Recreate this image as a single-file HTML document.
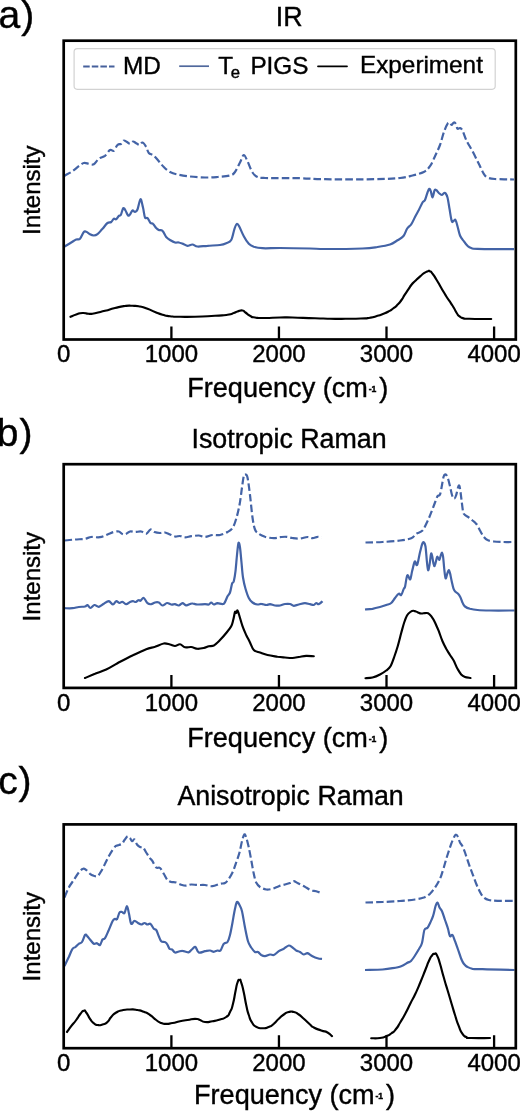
<!DOCTYPE html>
<html lang="en">
<head>
<meta charset="utf-8">
<title>Spectra</title>
<style>
html,body{margin:0;padding:0;background:#fff;}
body{width:520px;height:1111px;overflow:hidden;}
svg{display:block;}
text{font-family:"Liberation Sans",Arial,sans-serif;fill:#000;stroke:#000;stroke-width:0.4;}
.pl{font-size:39px;}
.tt{font-size:26.8px;text-anchor:middle;}
.tk{font-size:24px;text-anchor:middle;}
.ax{font-size:27.1px;}
.yl{font-size:24px;text-anchor:middle;}
.lg{font-size:24.3px;}
.box{fill:none;stroke:#000;stroke-width:2.7;}
.tick{stroke:#000;stroke-width:2.3;fill:none;}
.md{fill:none;stroke:#4363a6;stroke-width:2.2;stroke-dasharray:7.5 3.1;stroke-linejoin:round;}
.lmd{fill:none;stroke:#46609c;stroke-width:2;stroke-dasharray:6.5 2.1;}
.lpg{fill:none;stroke:#50689c;stroke-width:1.7;}
.pg{fill:none;stroke:#4363a6;stroke-width:2.2;stroke-linejoin:round;}
.ex{fill:none;stroke:#000;stroke-width:2.15;stroke-linejoin:round;stroke-linecap:round;}
</style>
</head>
<body>
<svg width="520" height="1111" viewBox="0 0 520 1111">
<rect x="0" y="0" width="520" height="1111" fill="#fff"/>

<!-- ===== panel a ===== -->
<g id="pa">
<text class="pl" x="-1.5" y="27.7">a<tspan dx="1">)</tspan></text>
<text class="tt" x="289.1" y="26">IR</text>
<path class="md" d="M64.5 175.8C64.6 175.8 63.7 176.3 65.0 175.5C66.3 174.7 70.2 172.8 72.5 171.2C74.8 169.7 76.9 167.6 78.8 166.2C80.6 164.9 82.1 163.4 83.8 163.0C85.4 162.6 87.1 163.5 88.8 163.8C90.4 164.0 92.1 165.1 93.8 164.2C95.4 163.4 96.9 160.2 98.8 158.8C100.6 157.3 103.1 157.2 105.0 155.8C106.9 154.3 108.5 150.8 110.0 150.0C111.5 149.2 112.5 151.6 113.8 150.8C115.0 149.9 116.2 146.2 117.5 145.0C118.8 143.8 120.2 144.5 121.2 143.8C122.3 143.0 122.8 140.8 123.8 140.5C124.7 140.2 126.0 141.5 127.0 142.0C128.0 142.5 129.0 143.8 130.0 143.8C131.0 143.7 132.0 141.6 133.0 141.5C134.0 141.4 135.2 142.7 136.2 143.2C137.3 143.8 138.5 145.1 139.5 145.0C140.5 144.9 141.4 142.2 142.5 142.5C143.6 142.8 145.2 145.2 146.2 147.0C147.3 148.8 147.5 151.6 148.8 153.0C150.0 154.4 152.1 154.1 153.8 155.5C155.4 156.9 157.1 159.3 158.8 161.2C160.4 163.2 161.9 165.2 163.8 167.0C165.6 168.8 167.7 170.8 170.0 172.0C172.3 173.2 174.2 173.8 177.5 174.5C180.8 175.2 185.4 176.0 190.0 176.5C194.6 177.0 200.4 177.4 205.0 177.5C209.6 177.6 213.3 177.3 217.5 177.0C221.7 176.7 227.1 176.3 230.0 175.5C232.9 174.7 233.3 174.2 235.0 172.0C236.7 169.8 238.5 165.3 240.0 162.5C241.5 159.7 242.5 155.2 243.8 155.0C245.0 154.8 246.0 158.3 247.5 161.2C249.0 164.2 250.8 169.9 252.5 172.5C254.2 175.1 255.4 176.1 257.5 177.0C259.6 177.9 257.9 177.8 265.0 178.0C272.1 178.2 290.0 178.0 300.0 178.2C310.0 178.5 312.5 179.1 325.0 179.2C337.5 179.4 362.5 179.5 375.0 179.2C387.5 179.0 393.8 178.6 400.0 178.0C406.2 177.4 408.5 176.5 412.5 175.5C416.5 174.5 420.8 173.5 423.8 172.0C426.7 170.5 428.1 168.9 430.0 166.2C431.9 163.6 433.3 159.8 435.0 156.2C436.7 152.7 438.5 149.0 440.0 145.0C441.5 141.0 442.5 136.0 443.8 132.5C445.0 129.0 446.5 125.3 447.5 123.8C448.5 122.2 449.3 122.8 450.0 123.0C450.7 123.2 451.1 125.1 451.8 125.0C452.4 124.9 453.1 122.7 453.8 122.5C454.4 122.3 455.1 122.7 455.8 123.8C456.4 124.8 456.8 128.0 457.5 128.8C458.2 129.5 459.2 127.7 460.0 128.0C460.8 128.3 461.5 128.5 462.5 130.5C463.5 132.5 464.6 136.5 466.2 140.0C467.9 143.5 470.4 147.3 472.5 151.2C474.6 155.2 476.9 160.0 478.8 163.8C480.6 167.5 482.3 171.5 483.8 173.8C485.2 176.0 485.6 176.6 487.5 177.5C489.4 178.4 490.6 178.7 495.0 179.0C499.4 179.3 510.8 179.4 514.0 179.5"/>
<path class="pg" d="M64.5 246.5C65.6 245.8 69.3 243.7 71.2 242.5C73.2 241.3 74.8 240.1 76.2 239.5C77.7 238.9 78.8 240.0 80.0 238.8C81.2 237.5 82.7 233.2 83.8 232.0C84.8 230.8 85.2 231.4 86.2 231.8C87.3 232.1 88.8 233.6 90.0 234.2C91.2 234.9 92.5 235.5 93.8 235.5C95.0 235.5 96.0 235.4 97.5 234.2C99.0 233.1 100.8 230.6 102.5 228.8C104.2 226.9 106.0 224.1 107.5 223.0C109.0 221.9 110.2 222.7 111.2 222.0C112.3 221.3 112.9 219.2 113.8 218.8C114.6 218.3 115.4 219.8 116.2 219.2C117.1 218.8 118.0 216.5 118.8 215.8C119.5 215.0 120.0 216.2 120.8 215.0C121.5 213.8 122.5 209.0 123.2 208.2C124.0 207.5 124.7 209.3 125.5 210.5C126.3 211.7 127.2 214.8 128.0 215.5C128.8 216.2 129.2 215.3 130.0 214.5C130.8 213.7 131.7 210.9 132.5 210.5C133.3 210.1 134.2 212.2 135.0 212.0C135.8 211.8 136.6 211.6 137.5 209.5C138.4 207.4 139.6 199.6 140.5 199.2C141.4 198.9 142.2 204.5 143.0 207.5C143.8 210.5 144.2 215.8 145.0 217.5C145.8 219.2 146.6 217.1 147.5 218.0C148.4 218.9 149.6 222.0 150.5 223.0C151.4 224.0 152.0 222.9 153.0 223.8C154.0 224.6 155.3 227.0 156.2 228.0C157.2 229.0 157.7 229.5 158.8 230.0C159.8 230.5 161.2 229.6 162.5 230.8C163.8 231.9 165.0 235.5 166.2 237.0C167.5 238.5 168.5 239.1 170.0 240.0C171.5 240.9 173.5 242.1 175.0 242.5C176.5 242.9 177.3 242.2 178.8 242.5C180.2 242.8 182.3 243.7 183.8 244.2C185.2 244.8 186.0 245.7 187.5 245.8C189.0 245.8 190.8 244.4 192.5 244.5C194.2 244.6 195.0 246.3 197.5 246.5C200.0 246.7 203.8 246.0 207.5 245.8C211.2 245.5 216.9 245.4 220.0 245.0C223.1 244.6 224.4 244.1 226.2 243.2C228.1 242.4 229.9 242.4 231.2 240.0C232.6 237.6 233.5 231.5 234.5 228.8C235.5 226.0 236.2 224.0 237.0 223.8C237.8 223.5 238.4 224.9 239.5 227.0C240.6 229.1 242.2 233.5 243.8 236.2C245.3 239.0 247.1 242.0 248.8 243.8C250.4 245.5 251.5 246.0 253.8 246.8C256.0 247.5 258.1 248.0 262.5 248.2C266.9 248.5 272.1 248.0 280.0 248.0C287.9 248.0 302.5 248.3 310.0 248.5C317.5 248.7 316.2 249.0 325.0 249.0C333.8 249.0 353.8 248.8 362.5 248.5C371.2 248.2 372.9 247.7 377.5 247.0C382.1 246.3 386.7 245.6 390.0 244.5C393.3 243.4 395.2 241.7 397.5 240.3C399.8 238.9 401.9 238.0 403.5 236.0C405.1 234.0 405.9 230.4 407.2 228.5C408.5 226.6 409.9 226.2 411.2 224.3C412.6 222.4 413.8 219.4 415.0 217.0C416.2 214.6 417.5 212.4 418.8 210.0C420.0 207.6 421.5 204.2 422.5 202.5C423.5 200.8 424.2 201.7 425.0 200.0C425.8 198.3 426.8 194.4 427.5 192.5C428.2 190.6 428.7 189.0 429.2 188.8C429.8 188.5 430.2 189.8 430.8 191.2C431.3 192.7 431.9 197.6 432.5 197.5C433.1 197.4 433.9 191.8 434.5 190.5C435.1 189.2 435.5 189.6 436.2 190.0C437.0 190.4 437.8 192.2 438.8 193.0C439.7 193.8 440.9 195.0 441.8 195.0C442.6 195.0 443.1 193.5 443.8 193.2C444.4 193.0 444.9 192.5 445.5 193.2C446.1 194.0 446.8 194.9 447.5 197.5C448.2 200.1 448.8 204.8 449.5 208.8C450.2 212.7 451.0 219.2 451.8 221.2C452.5 223.2 453.1 221.0 453.8 220.8C454.4 220.5 454.9 219.1 455.5 220.0C456.1 220.9 456.8 223.7 457.5 226.2C458.2 228.8 459.0 233.0 460.0 235.5C461.0 238.0 462.5 239.5 463.8 241.2C465.0 243.0 466.2 244.6 467.5 245.8C468.8 246.9 469.6 247.5 471.2 248.0C472.9 248.5 470.4 248.5 477.5 248.8C484.6 249.0 507.9 249.2 514.0 249.2"/>
<path class="ex" d="M70.5 316.8C72.4 316.0 72.2 315.8 76.2 314.5C80.2 313.2 78.3 313.2 82.5 313.0C86.7 312.8 84.6 313.7 88.8 313.8C92.9 313.8 89.6 314.2 95.0 313.2C100.4 312.2 98.3 312.5 105.0 310.8C111.7 309.0 108.3 309.6 115.0 308.0C121.7 306.4 119.2 306.8 125.0 306.0C130.8 305.2 127.5 305.6 132.5 305.8C137.5 305.9 135.0 305.5 140.0 306.5C145.0 307.5 142.5 306.9 147.5 308.8C152.5 310.6 150.0 310.0 155.0 312.0C160.0 314.0 157.5 313.3 162.5 314.8C167.5 316.2 164.2 315.6 170.0 316.2C175.8 316.9 171.7 316.6 180.0 316.8C188.3 316.9 183.3 317.1 195.0 316.8C206.7 316.4 204.2 316.4 215.0 315.8C225.8 315.1 221.2 315.7 227.5 314.8C233.8 313.8 230.4 314.1 233.8 313.0C237.1 311.9 234.6 312.3 237.5 311.5C240.4 310.7 239.8 310.2 242.5 310.5C245.2 310.8 243.0 310.8 245.5 312.5C248.0 314.2 246.8 314.1 250.0 315.8C253.2 317.4 250.0 316.8 255.0 317.5C260.0 318.2 256.7 318.0 265.0 318.0C273.3 318.0 270.8 317.7 280.0 317.5C289.2 317.3 280.8 317.2 292.5 317.5C304.2 317.8 302.5 317.9 315.0 318.2C327.5 318.6 319.9 318.5 330.0 318.7C340.1 318.9 335.1 318.9 345.4 318.8C355.7 318.7 352.6 318.9 360.8 318.5C369.0 318.1 364.9 318.5 370.0 317.7C375.1 316.9 372.1 317.4 376.2 316.2C380.3 315.0 378.2 315.8 382.3 314.2C386.4 312.6 384.9 313.4 388.5 311.5C392.1 309.6 390.0 310.8 393.1 308.5C396.2 306.2 394.9 307.4 397.7 304.6C400.5 301.8 399.1 303.3 401.5 300.0C403.9 296.7 402.4 298.4 404.8 294.7C407.2 291.0 406.5 292.2 408.7 288.9C410.9 285.6 409.3 287.4 411.5 284.7C413.7 282.0 412.5 283.6 415.4 280.8C418.3 278.0 417.3 278.9 420.2 276.4C423.1 273.9 421.4 274.9 424.0 273.2C426.6 271.5 426.0 271.9 427.9 271.2C429.8 270.5 428.2 270.3 429.8 271.2C431.4 272.1 430.5 271.1 432.7 273.9C434.9 276.7 433.6 275.0 436.5 279.7C439.4 284.4 438.1 282.5 441.3 288.0C444.5 293.5 443.0 291.1 446.2 296.2C449.4 301.3 448.5 299.4 451.0 303.3C453.5 307.2 451.9 304.6 453.8 307.8C455.7 311.0 454.8 310.1 456.7 313.0C458.6 315.9 457.3 314.7 459.6 316.4C461.9 318.1 460.3 317.4 463.5 318.2C466.7 319.0 459.9 318.5 469.2 318.8C478.4 319.1 483.9 318.9 491.2 319.0"/>
<rect class="box" x="63.7" y="40.7" width="452.1" height="298.8"/>
<path class="tick" d="M171.4 339V326.4M278.95 339V326.4M386.5 339V326.4M494.1 339V326.4"/>
<text class="tk" x="63.75" y="362.1">0</text>
<text class="tk" x="171.4" y="362.1">1000</text>
<text class="tk" x="278.95" y="362.1">2000</text>
<text class="tk" x="386.5" y="362.1">3000</text>
<text class="tk" x="494.1" y="362.1">4000</text>
<text class="ax" x="187.2" y="397.2">Frequency (cm<tspan font-size="8.6" font-weight="bold" dy="-5.5" dx="0.8">-1</tspan><tspan dy="5.5" dx="2.9">)</tspan></text>
<text class="yl" transform="translate(40.4 190.2) rotate(-90)">Intensity</text>
<rect x="74.1" y="48.6" width="421.1" height="40.7" rx="3.2" fill="#fff" stroke="#d2d2d2" stroke-width="1.2"/>
<path class="lmd" d="M83.2 66.6H114.5"/>
<text class="lg" x="123" y="73.8">MD</text>
<path class="lpg" d="M179.2 66.2H209"/>
<text class="lg" x="218.3" y="73.8">T<tspan font-size="16.7" dy="4.4" dx="-2.4">e</tspan><tspan dy="-4.4" dx="3.6"> PIGS</tspan></text>
<path class="ex" style="stroke-width:1.8" d="M318 66.3H347"/>
<text class="lg" x="360" y="73.2">Experiment</text>
</g>

<!-- ===== panel b ===== -->
<g id="pb">
<text class="pl" x="-3.3" y="445.8">b<tspan dx="1.2">)</tspan></text>
<text class="tt" x="289.1" y="447.5">Isotropic Raman</text>
<path class="md" d="M64.5 540.5C66.2 540.3 71.6 539.8 75.0 539.5C78.4 539.2 82.3 539.2 85.0 538.8C87.7 538.3 88.8 537.2 91.2 537.0C93.8 536.8 97.3 537.7 100.0 537.2C102.7 536.8 105.2 535.4 107.5 534.5C109.8 533.6 111.9 532.5 113.8 532.0C115.6 531.5 117.4 531.2 118.8 531.5C120.1 531.8 120.9 533.3 122.0 533.8C123.1 534.2 124.2 534.6 125.5 534.2C126.8 533.9 128.4 531.9 130.0 531.5C131.6 531.1 133.1 532.0 135.0 532.0C136.9 532.0 139.4 531.2 141.2 531.5C143.1 531.8 144.7 534.1 146.2 533.8C147.8 533.4 149.1 529.8 150.5 529.5C151.9 529.2 152.9 531.4 154.5 532.0C156.1 532.6 158.2 532.9 160.0 533.0C161.8 533.1 163.3 532.2 165.0 532.5C166.7 532.8 168.3 533.8 170.0 534.5C171.7 535.2 173.3 536.2 175.0 536.5C176.7 536.8 178.3 535.9 180.0 536.0C181.7 536.1 183.1 537.3 185.0 537.3C186.9 537.3 189.0 536.5 191.2 536.2C193.5 536.0 196.5 535.4 198.8 535.5C201.0 535.6 202.7 537.1 205.0 537.0C207.3 536.9 210.0 535.3 212.5 535.0C215.0 534.7 217.5 535.5 220.0 535.0C222.5 534.5 225.4 533.2 227.5 532.0C229.6 530.8 231.0 530.2 232.5 528.0C234.0 525.8 235.1 522.6 236.2 518.8C237.4 514.9 238.5 510.2 239.5 505.0C240.5 499.8 241.3 492.3 242.0 487.5C242.7 482.7 243.2 478.4 243.8 476.2C244.3 474.1 244.9 474.3 245.5 474.5C246.1 474.7 246.8 474.1 247.5 477.5C248.2 480.9 249.2 488.3 250.0 495.0C250.8 501.7 251.7 511.8 252.5 517.5C253.3 523.2 254.0 526.8 255.0 529.5C256.0 532.2 257.1 532.5 258.8 533.8C260.4 535.0 262.5 536.0 265.0 536.8C267.5 537.5 271.2 538.2 273.8 538.2C276.2 538.3 277.9 537.5 280.0 537.2C282.1 537.0 284.2 536.6 286.2 536.8C288.3 536.9 290.2 537.7 292.5 538.0C294.8 538.3 297.5 538.7 300.0 538.5C302.5 538.3 305.4 537.0 307.5 537.0C309.6 537.0 310.8 538.3 312.5 538.2C314.2 538.2 316.0 536.9 317.5 536.8C319.0 536.6 320.8 537.4 321.5 537.5"/>
<path class="md" d="M365.5 542.5C368.3 542.4 376.8 542.3 382.5 542.0C388.2 541.7 395.2 541.1 400.0 540.5C404.8 539.9 408.5 539.4 411.2 538.2C414.0 537.1 414.4 535.0 416.2 533.8C418.1 532.5 420.6 532.6 422.5 530.5C424.4 528.4 426.0 524.2 427.5 521.2C429.0 518.2 430.0 515.6 431.2 512.5C432.5 509.4 434.0 505.2 435.0 502.5C436.0 499.8 436.7 497.6 437.5 496.2C438.3 494.9 439.2 496.4 440.0 494.5C440.8 492.6 441.4 488.0 442.0 485.0C442.6 482.0 443.1 478.0 443.8 476.2C444.4 474.5 445.0 474.1 445.8 474.5C446.5 474.9 447.3 476.8 448.0 478.8C448.7 480.7 449.3 483.5 450.0 486.2C450.7 489.0 451.3 492.9 452.0 495.0C452.7 497.1 453.5 498.8 454.2 498.8C455.0 498.8 455.6 496.9 456.2 495.0C456.9 493.1 457.5 489.0 458.0 487.5C458.5 486.0 459.0 484.6 459.5 486.2C460.0 487.9 460.7 493.3 461.2 497.5C461.8 501.7 462.4 508.3 463.0 511.2C463.6 514.2 464.0 514.0 465.0 515.0C466.0 516.0 467.5 516.6 468.8 517.5C470.0 518.4 471.2 519.5 472.5 520.5C473.8 521.5 475.0 522.1 476.2 523.8C477.5 525.4 478.8 528.3 480.0 530.5C481.2 532.7 482.5 535.2 483.8 536.8C485.0 538.3 485.8 539.2 487.5 540.0C489.2 540.8 491.2 541.2 493.8 541.5C496.2 541.8 499.0 541.9 502.5 542.0C506.0 542.1 512.5 542.0 514.5 542.0"/>
<path class="pg" d="M64.5 608.2C65.8 608.2 70.1 608.5 72.5 608.2C74.9 608.0 76.7 607.3 78.8 607.0C80.8 606.7 83.5 606.8 85.0 606.5C86.5 606.2 86.6 604.8 87.5 605.0C88.4 605.2 89.3 608.0 90.5 608.0C91.7 608.0 93.1 605.2 94.5 605.0C95.9 604.8 97.2 607.0 98.8 606.8C100.3 606.5 102.1 604.7 103.8 603.8C105.4 602.8 107.2 601.1 108.8 601.2C110.3 601.4 111.8 604.5 113.0 604.5C114.2 604.5 115.2 601.5 116.2 601.2C117.3 601.0 118.5 602.9 119.5 603.0C120.5 603.1 121.4 601.5 122.5 601.8C123.6 602.0 125.0 604.2 126.2 604.2C127.5 604.3 128.9 602.5 130.0 602.0C131.1 601.5 132.0 601.2 133.0 601.2C134.0 601.2 134.8 602.2 135.8 602.0C136.7 601.8 138.0 600.2 138.8 600.0C139.5 599.8 139.7 601.1 140.5 600.8C141.3 600.4 142.6 597.6 143.8 598.0C144.9 598.4 146.2 602.2 147.5 603.2C148.8 604.3 150.0 604.4 151.2 604.2C152.5 604.1 153.8 602.8 155.0 602.5C156.2 602.2 157.5 602.0 158.8 602.5C160.0 603.0 161.1 605.4 162.5 605.5C163.9 605.6 165.5 603.2 167.0 603.0C168.5 602.8 169.9 604.3 171.2 604.5C172.6 604.7 173.8 604.1 175.0 604.2C176.2 604.4 177.5 605.7 178.8 605.5C180.0 605.3 181.2 603.3 182.5 603.2C183.8 603.2 185.0 605.2 186.2 605.3C187.5 605.4 189.0 604.3 190.0 604.0C191.0 603.7 191.2 603.4 192.5 603.5C193.8 603.6 195.4 604.4 197.5 604.5C199.6 604.6 203.1 604.2 205.0 604.2C206.9 604.2 207.7 604.8 208.8 604.5C209.8 604.2 210.4 602.5 211.2 602.5C212.1 602.5 212.7 604.4 213.8 604.5C214.8 604.6 215.8 603.4 217.5 603.2C219.2 603.1 222.1 604.9 223.8 603.8C225.4 602.6 226.5 598.1 227.5 596.2C228.5 594.4 229.2 594.6 230.0 592.5C230.8 590.4 231.4 585.6 232.0 583.8C232.6 581.9 233.2 583.3 233.8 581.2C234.3 579.2 235.0 575.6 235.5 571.2C236.0 566.9 236.5 559.7 237.0 555.0C237.5 550.3 238.0 544.2 238.5 543.0C239.0 541.8 239.5 544.2 240.0 547.5C240.5 550.8 241.0 557.5 241.5 562.5C242.0 567.5 242.3 573.1 243.0 577.5C243.7 581.9 244.5 585.3 245.5 588.8C246.5 592.2 247.6 595.7 248.8 598.0C249.9 600.3 251.0 601.4 252.5 602.5C254.0 603.6 256.0 604.3 257.5 604.5C259.0 604.7 259.8 603.7 261.2 603.8C262.7 603.8 264.8 604.9 266.2 605.0C267.7 605.1 268.5 604.2 270.0 604.2C271.5 604.3 273.3 605.3 275.0 605.5C276.7 605.7 278.3 605.8 280.0 605.5C281.7 605.2 283.3 604.2 285.0 604.0C286.7 603.8 288.5 603.7 290.0 604.0C291.5 604.3 292.3 605.7 293.8 605.8C295.2 605.8 296.9 604.9 298.8 604.5C300.6 604.1 303.1 603.2 305.0 603.2C306.9 603.2 308.5 604.0 310.0 604.2C311.5 604.5 312.7 605.2 313.8 605.0C314.8 604.8 315.4 603.1 316.2 603.0C317.1 602.9 317.7 604.5 318.8 604.2C319.8 604.0 321.9 601.8 322.5 601.2"/>
<path class="pg" d="M365.0 609.5C366.2 609.4 370.0 609.2 372.5 608.8C375.0 608.3 377.7 607.6 380.0 607.0C382.3 606.4 384.4 605.7 386.2 605.0C388.1 604.3 389.8 604.2 391.2 603.0C392.7 601.8 393.8 599.5 395.0 598.0C396.2 596.5 397.7 594.2 398.8 593.8C399.8 593.2 400.4 595.8 401.2 595.0C402.1 594.2 403.1 590.1 403.8 588.8C404.4 587.4 404.4 589.1 405.0 586.9C405.6 584.7 406.4 576.6 407.3 575.4C408.2 574.1 409.4 580.2 410.2 579.4C411.0 578.6 411.4 573.8 412.2 570.8C413.0 567.8 414.0 562.5 414.8 561.5C415.6 560.5 416.2 566.5 417.1 565.0C418.0 563.5 419.1 555.8 420.0 552.3C420.9 548.8 421.6 545.3 422.3 543.7C423.0 542.1 423.5 542.0 424.0 542.5C424.5 543.0 425.0 543.3 425.5 546.5C426.0 549.7 426.5 557.5 426.9 561.5C427.3 565.5 427.7 569.6 428.1 570.2C428.5 570.8 429.0 567.7 429.5 565.0C430.0 562.3 430.6 555.5 431.0 554.0C431.4 552.5 431.7 554.3 432.1 555.8C432.5 557.2 432.9 561.0 433.3 562.7C433.7 564.4 434.0 566.2 434.4 566.2C434.8 566.2 435.2 564.2 435.6 562.7C436.1 561.2 436.7 557.7 437.1 556.9C437.5 556.1 437.8 557.6 438.2 558.1C438.6 558.6 439.0 560.1 439.4 559.8C439.8 559.5 440.1 557.5 440.5 556.3C440.9 555.1 441.5 552.4 441.9 552.5C442.3 552.6 442.7 554.2 443.1 556.9C443.5 559.6 443.8 564.9 444.2 568.5C444.6 572.1 445.1 577.3 445.6 578.3C446.1 579.2 446.6 575.6 447.1 574.2C447.6 572.9 448.1 570.4 448.6 570.2C449.1 570.0 449.5 571.3 450.0 573.1C450.5 574.9 451.1 578.6 451.7 581.2C452.3 583.8 452.9 587.0 453.5 588.7C454.1 590.4 454.4 590.6 455.2 591.5C456.0 592.4 457.2 592.8 458.1 593.8C459.0 594.8 459.6 595.8 460.4 597.3C461.2 598.8 461.9 601.6 462.7 603.1C463.5 604.6 463.8 605.6 465.0 606.5C466.2 607.4 467.9 608.2 470.0 608.8C472.1 609.3 474.2 609.7 477.5 610.0C480.8 610.3 483.8 610.4 490.0 610.5C496.2 610.6 510.4 610.5 514.5 610.5"/>
<path class="ex" d="M85.0 678.0C86.7 677.3 91.5 675.2 95.0 673.8C98.5 672.3 102.5 671.2 106.2 669.5C110.0 667.8 113.1 665.6 117.5 663.2C121.9 660.9 127.7 657.8 132.5 655.5C137.3 653.2 142.5 650.7 146.2 649.2C150.0 647.8 152.1 647.7 155.0 646.8C157.9 645.8 161.2 643.9 163.8 643.5C166.2 643.1 168.1 644.1 170.0 644.5C171.9 644.9 173.3 646.0 175.0 646.0C176.7 646.0 178.3 644.1 180.0 644.3C181.7 644.5 183.1 646.8 185.0 647.3C186.9 647.8 189.2 646.8 191.2 647.0C193.3 647.2 195.4 648.6 197.5 648.8C199.6 648.9 201.9 648.4 203.8 648.0C205.6 647.6 207.1 646.7 208.8 646.2C210.4 645.8 211.9 646.5 213.8 645.5C215.6 644.5 217.9 642.1 220.0 640.0C222.1 637.9 224.4 635.3 226.2 633.0C228.1 630.7 230.1 628.4 231.2 626.2C232.4 624.1 232.6 622.4 233.2 620.0C233.9 617.6 234.5 613.2 235.0 612.0C235.5 610.8 235.8 613.2 236.2 613.0C236.7 612.8 237.0 610.0 237.5 610.5C238.0 611.0 238.7 613.6 239.5 616.2C240.3 618.9 241.4 623.1 242.5 626.2C243.6 629.4 245.0 632.3 246.2 635.0C247.5 637.7 248.8 640.0 250.0 642.5C251.2 645.0 252.1 648.3 253.8 650.0C255.4 651.7 257.7 651.7 260.0 652.5C262.3 653.3 264.6 654.3 267.5 655.0C270.4 655.7 274.6 656.3 277.5 656.8C280.4 657.2 282.5 657.3 285.0 657.5C287.5 657.7 290.0 658.1 292.5 658.0C295.0 657.9 297.7 657.1 300.0 656.8C302.3 656.4 304.0 656.0 306.2 655.9C308.5 655.8 312.5 656.2 313.8 656.2"/>
<path class="ex" d="M365.5 678.2C366.7 678.1 370.1 678.1 372.5 677.5C374.9 676.9 377.7 675.7 380.0 674.5C382.3 673.3 384.5 671.9 386.2 670.5C388.0 669.1 389.2 668.5 390.5 666.3C391.8 664.0 393.0 660.4 394.2 657.0C395.4 653.6 396.6 650.0 397.8 646.0C399.0 642.0 400.2 636.9 401.2 633.0C402.3 629.1 403.2 625.4 404.2 622.5C405.2 619.6 406.0 617.2 407.0 615.5C408.0 613.8 409.2 612.8 410.3 612.0C411.4 611.2 412.6 610.7 413.8 610.8C414.9 610.8 416.2 611.7 417.5 612.2C418.8 612.7 420.0 613.4 421.2 613.5C422.5 613.6 423.9 613.1 425.0 613.1C426.1 613.1 427.0 612.7 428.0 613.2C429.0 613.8 430.1 614.7 431.2 616.2C432.4 617.8 433.8 620.0 435.0 622.5C436.2 625.0 437.5 628.1 438.8 631.2C440.0 634.4 441.2 638.3 442.5 641.2C443.8 644.2 445.0 646.5 446.2 648.8C447.5 651.0 448.8 653.0 450.0 655.0C451.2 657.0 452.5 658.5 453.8 660.8C455.0 663.0 456.2 666.5 457.5 668.8C458.8 671.0 460.0 673.1 461.2 674.5C462.5 675.9 463.5 676.4 465.0 677.0C466.5 677.6 469.6 677.8 470.5 678.0"/>
<rect class="box" x="63.7" y="464.2" width="452.1" height="223.7"/>
<path class="tick" d="M171.4 687.5V675M278.95 687.5V675M386.5 687.5V675M494.1 687.5V675"/>
<text class="tk" x="63.75" y="710.7">0</text>
<text class="tk" x="171.4" y="710.7">1000</text>
<text class="tk" x="278.95" y="710.7">2000</text>
<text class="tk" x="386.5" y="710.7">3000</text>
<text class="tk" x="494.1" y="710.7">4000</text>
<text class="ax" x="187.2" y="747.2">Frequency (cm<tspan font-size="8.6" font-weight="bold" dy="-5.5" dx="0.8">-1</tspan><tspan dy="5.5" dx="2.9">)</tspan></text>
<text class="yl" transform="translate(40.4 576.7) rotate(-90)">Intensity</text>
</g>

<!-- ===== panel c ===== -->
<g id="pc">
<text class="pl" x="-1.7" y="794.4">c<tspan dx="0.6">)</tspan></text>
<text class="tt" x="290.6" y="805.4">Anisotropic Raman</text>
<path class="md" d="M64.5 897.0C64.6 896.9 64.3 897.8 65.0 896.2C65.7 894.7 67.3 890.2 68.8 887.5C70.2 884.8 72.1 882.5 73.8 880.0C75.4 877.5 77.2 874.4 78.8 872.5C80.3 870.6 81.8 869.2 83.0 868.8C84.2 868.3 85.1 869.2 86.2 870.0C87.4 870.8 88.8 872.8 90.0 873.8C91.2 874.7 92.5 875.3 93.8 875.8C95.0 876.2 96.2 877.0 97.5 876.2C98.8 875.5 100.0 873.3 101.2 871.2C102.5 869.2 103.8 866.2 105.0 863.8C106.2 861.2 107.5 858.5 108.8 856.2C110.0 854.0 111.4 851.7 112.5 850.0C113.6 848.3 114.5 847.1 115.5 846.2C116.5 845.4 117.7 845.4 118.8 845.0C119.8 844.6 121.0 844.6 122.0 843.8C123.0 842.9 123.6 841.2 124.5 840.0C125.4 838.8 126.6 836.6 127.5 836.2C128.4 835.9 129.2 837.2 130.0 838.0C130.8 838.8 131.2 841.0 132.0 841.2C132.8 841.5 133.7 839.0 134.5 839.5C135.3 840.0 136.1 843.2 137.0 844.5C137.9 845.8 139.0 846.5 140.0 847.0C141.0 847.5 142.0 846.6 143.0 847.5C144.0 848.4 145.2 850.8 146.2 852.5C147.3 854.2 148.5 856.0 149.5 857.5C150.5 859.0 151.4 859.6 152.5 861.2C153.6 862.9 155.0 866.4 156.2 867.5C157.5 868.6 158.8 867.0 160.0 868.0C161.2 869.0 162.5 871.8 163.8 873.8C165.0 875.8 166.2 878.6 167.5 880.0C168.8 881.4 169.8 881.6 171.2 882.0C172.7 882.4 174.6 882.0 176.2 882.5C177.9 883.0 179.6 884.2 181.2 884.7C182.9 885.2 184.3 885.6 186.0 885.6C187.7 885.6 189.3 884.6 191.2 884.5C193.2 884.4 195.2 884.9 197.5 885.0C199.8 885.1 202.5 884.8 205.0 885.0C207.5 885.2 210.0 886.5 212.5 886.2C215.0 886.0 217.9 884.3 220.0 883.8C222.1 883.2 223.5 883.8 225.0 883.0C226.5 882.2 227.5 880.5 228.8 878.8C230.0 877.0 231.2 875.2 232.5 872.5C233.8 869.8 235.1 865.8 236.2 862.5C237.4 859.2 238.5 856.0 239.5 852.5C240.5 849.0 241.2 844.2 242.0 841.2C242.8 838.2 243.5 835.1 244.2 834.5C245.0 833.9 245.5 835.3 246.2 837.5C247.0 839.7 247.9 843.8 248.8 847.5C249.6 851.2 250.4 855.6 251.2 860.0C252.1 864.4 252.9 870.0 253.8 873.8C254.6 877.5 255.2 880.3 256.2 882.5C257.3 884.7 258.3 885.8 260.0 887.0C261.7 888.2 264.2 889.2 266.2 889.5C268.3 889.8 270.4 889.3 272.5 888.8C274.6 888.2 276.7 887.0 278.8 886.2C280.8 885.5 283.1 885.0 285.0 884.5C286.9 884.0 288.5 883.5 290.0 883.0C291.5 882.5 292.5 881.2 293.8 881.2C295.0 881.2 296.0 882.3 297.5 883.0C299.0 883.7 301.0 884.8 302.5 885.5C304.0 886.2 304.8 886.7 306.2 887.5C307.7 888.3 309.6 889.9 311.2 890.5C312.9 891.1 314.6 890.8 316.2 891.2C317.9 891.7 320.4 892.7 321.2 893.0"/>
<path class="md" d="M365.5 902.5C368.3 902.4 376.8 902.2 382.5 902.0C388.2 901.8 394.6 901.4 400.0 901.0C405.4 900.6 411.0 900.1 415.0 899.5C419.0 898.9 421.2 898.5 423.8 897.5C426.2 896.5 428.1 895.4 430.0 893.8C431.9 892.1 433.3 890.0 435.0 887.5C436.7 885.0 438.5 882.1 440.0 878.8C441.5 875.4 442.5 871.5 443.8 867.5C445.0 863.5 446.2 859.0 447.5 855.0C448.8 851.0 450.1 846.9 451.2 843.8C452.4 840.6 453.7 837.8 454.5 836.2C455.3 834.7 455.7 834.4 456.2 834.5C456.8 834.6 457.4 835.7 458.0 837.0C458.6 838.3 459.2 841.0 460.0 842.5C460.8 844.0 461.7 844.6 462.5 846.2C463.3 847.9 464.0 849.6 465.0 852.5C466.0 855.4 467.5 860.2 468.8 863.8C470.0 867.3 471.2 870.4 472.5 873.8C473.8 877.1 475.0 880.7 476.2 883.8C477.5 886.8 478.8 889.7 480.0 892.0C481.2 894.3 482.3 896.2 483.8 897.5C485.2 898.8 486.5 899.5 488.8 900.0C491.0 900.5 493.2 900.6 497.5 900.8C501.8 900.9 511.7 900.8 514.5 900.8"/>
<path class="pg" d="M64.5 966.0C64.6 965.8 64.3 966.5 65.0 965.0C65.7 963.5 67.5 959.7 68.8 957.0C70.0 954.3 71.4 950.4 72.5 948.8C73.6 947.1 74.5 947.8 75.5 947.0C76.5 946.2 77.7 944.6 78.8 943.8C79.8 942.9 81.0 943.5 82.0 942.0C83.0 940.5 84.2 936.0 85.0 935.0C85.8 934.0 86.2 935.0 87.0 935.8C87.8 936.5 88.9 938.2 90.0 939.5C91.1 940.8 92.6 943.1 93.8 943.8C94.9 944.4 96.0 943.0 97.0 943.2C98.0 943.5 99.1 945.6 100.0 945.0C100.9 944.4 101.7 940.6 102.5 939.5C103.3 938.4 104.0 939.8 105.0 938.2C106.0 936.7 107.5 932.8 108.8 930.0C110.0 927.2 111.5 923.1 112.5 921.2C113.5 919.4 114.2 919.1 115.0 918.8C115.8 918.4 116.2 920.3 117.0 919.2C117.8 918.2 118.7 913.7 119.5 912.5C120.3 911.3 121.2 911.9 122.0 912.0C122.8 912.1 123.7 914.0 124.5 913.0C125.3 912.0 126.2 906.1 127.0 906.2C127.8 906.4 128.3 910.8 129.0 913.8C129.7 916.7 130.3 922.6 131.2 923.8C132.2 924.9 133.4 920.9 134.5 920.8C135.6 920.6 136.9 922.4 138.0 923.0C139.1 923.6 140.2 924.5 141.2 924.5C142.3 924.5 143.5 923.0 144.5 923.0C145.5 923.0 146.5 924.4 147.5 924.5C148.5 924.6 149.5 923.0 150.5 923.8C151.5 924.5 152.8 927.7 153.8 928.8C154.7 929.8 155.4 928.8 156.2 930.0C157.1 931.2 157.9 934.4 158.8 936.2C159.6 938.1 160.3 940.3 161.2 941.2C162.2 942.2 163.5 941.6 164.5 942.0C165.5 942.4 166.2 942.6 167.0 943.8C167.8 944.9 168.7 947.8 169.5 948.8C170.3 949.7 171.1 948.9 172.0 949.5C172.9 950.1 173.9 952.2 175.0 952.5C176.1 952.8 177.5 951.8 178.8 951.5C180.0 951.2 181.3 950.7 182.5 950.8C183.7 950.8 185.0 951.5 186.0 951.8C187.0 952.1 187.7 952.8 188.8 952.3C189.8 951.8 191.4 949.6 192.5 948.8C193.6 947.9 194.5 946.4 195.5 947.0C196.5 947.6 197.2 951.8 198.8 952.5C200.3 953.2 203.1 951.6 205.0 951.2C206.9 950.9 208.5 950.4 210.0 950.5C211.5 950.6 212.5 951.8 213.8 951.8C215.0 951.8 216.4 950.7 217.5 950.5C218.6 950.3 219.5 951.6 220.5 950.5C221.5 949.4 222.6 945.2 223.8 943.8C224.9 942.3 226.5 943.5 227.5 942.0C228.5 940.5 229.2 938.2 230.0 935.0C230.8 931.8 231.7 926.9 232.5 922.5C233.3 918.1 234.2 912.2 235.0 908.8C235.8 905.3 236.2 902.6 237.0 902.0C237.8 901.4 238.7 903.5 239.5 905.0C240.3 906.5 241.1 907.5 242.0 911.2C242.9 915.0 244.0 922.5 245.0 927.5C246.0 932.5 247.0 937.9 248.0 941.2C249.0 944.6 250.1 945.7 251.2 947.5C252.4 949.3 253.9 951.2 255.0 952.0C256.1 952.8 257.0 951.5 258.0 952.0C259.0 952.5 260.1 954.3 261.2 955.0C262.4 955.7 263.5 956.3 265.0 956.2C266.5 956.2 268.5 954.7 270.0 954.5C271.5 954.3 272.3 955.5 273.8 955.0C275.2 954.5 277.1 952.3 278.8 951.2C280.4 950.2 282.1 949.7 283.8 948.8C285.4 947.8 287.3 945.7 288.8 945.5C290.2 945.3 291.2 946.7 292.5 947.5C293.8 948.3 295.0 949.8 296.2 950.5C297.5 951.2 298.8 951.3 300.0 952.0C301.2 952.7 302.5 954.3 303.8 954.5C305.0 954.7 306.0 953.0 307.5 953.2C309.0 953.5 310.8 955.4 312.5 956.2C314.2 957.1 315.9 957.8 317.5 958.2C319.1 958.7 321.2 958.9 322.0 959.0"/>
<path class="pg" d="M365.0 970.0C367.9 969.9 377.9 969.8 382.5 969.5C387.1 969.2 389.4 968.8 392.5 968.2C395.6 967.7 398.8 967.2 401.2 966.2C403.8 965.3 405.9 963.7 407.5 962.8C409.1 961.9 409.8 962.2 411.0 961.0C412.2 959.8 413.7 957.5 415.0 955.5C416.3 953.5 417.6 951.4 418.8 949.3C419.9 947.2 421.1 946.2 422.0 943.0C422.9 939.8 423.5 932.5 424.4 930.0C425.3 927.5 426.5 929.0 427.5 927.8C428.5 926.5 429.4 924.4 430.3 922.5C431.2 920.6 432.1 919.0 433.0 916.2C433.9 913.5 434.8 908.5 435.5 906.2C436.2 904.0 436.8 902.3 437.5 902.5C438.2 902.7 438.8 906.0 439.5 907.5C440.2 909.0 441.1 909.2 442.0 911.2C442.9 913.3 444.0 917.1 445.0 920.0C446.0 922.9 447.2 926.0 448.0 928.8C448.8 931.5 449.2 935.2 450.0 936.2C450.8 937.3 451.7 934.2 452.5 935.0C453.3 935.8 454.1 938.8 455.0 941.2C455.9 943.7 457.0 946.6 458.0 949.5C459.0 952.4 460.3 956.4 461.2 958.8C462.2 961.1 462.7 962.4 463.8 963.8C464.8 965.1 466.0 966.2 467.5 967.0C469.0 967.8 470.0 968.4 472.5 968.8C475.0 969.1 475.5 969.0 482.5 969.2C489.5 969.5 509.2 969.9 514.5 970.0"/>
<path class="ex" d="M67.0 1032.0C68.4 1030.1 68.2 1030.2 71.2 1026.2C74.3 1022.2 73.2 1024.2 76.2 1020.0C79.3 1015.8 78.0 1016.8 80.5 1013.8C83.0 1010.7 81.8 1011.2 83.8 1010.8C85.7 1010.3 84.2 1009.8 86.2 1012.5C88.3 1015.2 87.5 1015.2 90.0 1018.8C92.5 1022.3 91.2 1021.2 93.8 1023.2C96.2 1025.3 94.6 1024.6 97.5 1025.0C100.4 1025.4 99.2 1025.5 102.5 1024.5C105.8 1023.5 104.6 1024.5 107.5 1022.0C110.4 1019.5 108.3 1020.2 111.2 1017.0C114.2 1013.8 112.5 1014.8 116.2 1012.5C120.0 1010.2 117.9 1011.2 122.5 1010.2C127.1 1009.2 125.0 1009.6 130.0 1009.5C135.0 1009.4 132.9 1009.2 137.5 1010.0C142.1 1010.8 139.6 1010.1 143.8 1011.8C147.9 1013.4 145.8 1012.2 150.0 1015.0C154.2 1017.8 152.5 1017.3 156.2 1020.0C160.0 1022.7 157.9 1021.8 161.2 1023.0C164.6 1024.2 162.5 1023.8 166.2 1023.8C170.0 1023.8 167.9 1023.8 172.5 1023.0C177.1 1022.2 175.0 1022.2 180.0 1021.2C185.0 1020.2 182.5 1020.8 187.5 1020.0C192.5 1019.2 190.8 1018.8 195.0 1018.8C199.2 1018.8 196.7 1018.9 200.0 1020.0C203.3 1021.1 200.8 1021.6 205.0 1022.0C209.2 1022.4 207.5 1022.1 212.5 1021.2C217.5 1020.4 215.4 1020.9 220.0 1019.5C224.6 1018.1 222.9 1019.5 226.2 1017.0C229.6 1014.5 227.8 1016.4 230.0 1012.0C232.2 1007.6 231.2 1010.7 233.0 1003.8C234.8 996.8 234.0 998.3 235.5 991.2C237.0 984.2 236.2 986.2 237.5 982.5C238.8 978.8 238.2 980.0 239.5 980.0C240.8 980.0 239.8 978.3 241.2 982.5C242.7 986.7 242.1 985.0 243.8 992.5C245.4 1000.0 244.6 997.5 246.2 1005.0C247.9 1012.5 246.8 1009.2 248.8 1015.0C250.7 1020.8 249.5 1018.6 252.0 1022.5C254.5 1026.4 252.8 1024.8 256.2 1026.8C259.8 1028.7 258.3 1028.2 262.5 1028.2C266.7 1028.3 265.0 1028.5 268.8 1027.0C272.5 1025.5 270.4 1026.5 273.8 1023.8C277.1 1021.0 275.4 1021.8 278.8 1018.8C282.1 1015.7 280.4 1016.8 283.8 1014.5C287.1 1012.2 285.4 1012.8 288.8 1012.0C292.1 1011.2 290.4 1011.2 293.8 1012.0C297.1 1012.8 295.4 1012.2 298.8 1014.5C302.1 1016.8 300.0 1015.4 303.8 1018.8C307.5 1022.1 306.7 1021.6 310.0 1024.5C313.3 1027.4 310.0 1025.5 313.8 1027.5C317.5 1029.5 316.7 1028.8 321.2 1030.5C325.8 1032.2 323.9 1030.6 327.5 1032.5C331.1 1034.4 330.5 1035.0 332.0 1036.2"/>
<path class="ex" d="M371.2 1038.2C374.2 1038.2 375.0 1038.7 380.0 1038.0C385.0 1037.3 382.5 1037.8 386.2 1036.2C390.0 1034.8 388.1 1035.8 391.2 1033.5C394.4 1031.2 392.7 1033.1 395.8 1029.3C398.9 1025.5 397.3 1027.3 400.5 1022.0C403.7 1016.7 402.2 1019.5 405.5 1013.3C408.8 1007.1 407.2 1009.9 410.5 1003.3C413.8 996.7 412.2 1000.6 415.5 993.5C418.8 986.4 417.2 990.0 420.5 982.0C423.8 974.0 422.7 976.5 425.5 969.5C428.3 962.5 426.7 965.7 428.9 961.0C431.1 956.3 430.1 957.9 432.0 955.5C433.9 953.1 432.8 953.8 434.5 953.8C436.2 953.8 435.2 952.2 437.0 955.5C438.8 958.8 437.8 956.4 440.0 963.8C442.2 971.1 441.2 968.8 443.8 977.5C446.2 986.2 445.0 981.7 447.5 990.0C450.0 998.3 448.8 994.2 451.2 1002.5C453.8 1010.8 452.5 1007.1 455.0 1015.0C457.5 1022.9 456.2 1020.0 458.8 1026.2C461.2 1032.5 460.0 1030.2 462.5 1033.8C465.0 1037.3 463.3 1035.6 466.2 1037.0C469.2 1038.4 463.3 1037.7 471.2 1038.0C479.2 1038.3 483.8 1038.0 490.0 1038.0"/>
<rect class="box" x="63.7" y="824.4" width="452.1" height="223.8"/>
<path class="tick" d="M171.4 1048V1035.3M278.95 1048V1035.3M386.5 1048V1035.3M494.1 1048V1035.3"/>
<text class="tk" x="63.75" y="1070.8">0</text>
<text class="tk" x="171.4" y="1070.8">1000</text>
<text class="tk" x="278.95" y="1070.8">2000</text>
<text class="tk" x="386.5" y="1070.8">3000</text>
<text class="tk" x="494.1" y="1070.8">4000</text>
<text class="ax" x="194" y="1104.4">Frequency (cm<tspan font-size="8.6" font-weight="bold" dy="-5.5" dx="0.8">-1</tspan><tspan dy="5.5" dx="2.9">)</tspan></text>
<text class="yl" transform="translate(40.4 936.7) rotate(-90)">Intensity</text>
</g>
</svg>
</body>
</html>
